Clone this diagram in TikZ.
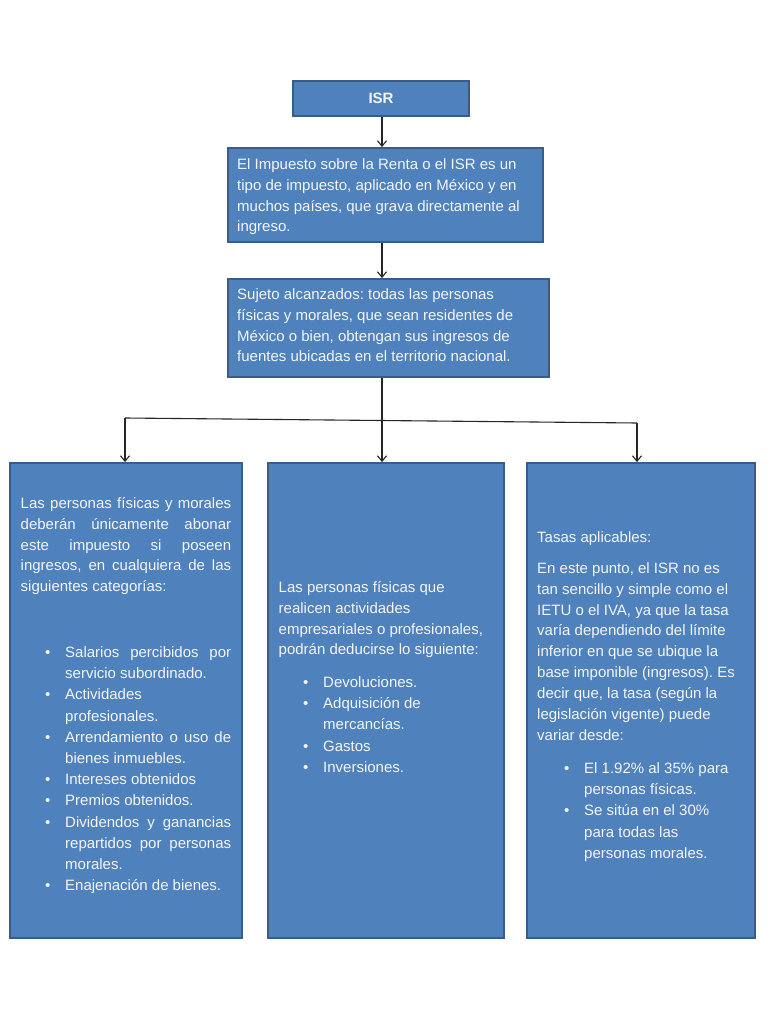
\documentclass[tikz,border=0pt]{standalone}
\usepackage{fontspec}
\setmainfont{Liberation Sans}
\usetikzlibrary{arrows.meta}
\definecolor{boxfill}{HTML}{4F81BD}
\definecolor{boxline}{HTML}{385D8A}
\definecolor{txtcol}{HTML}{F4F6FA}
\frenchspacing
\tikzset{
  box/.style={draw=boxline, fill=boxfill, line width=1.8pt, inner sep=0pt, rectangle},
  txtblock/.style={inner sep=0pt, anchor=north west, align=left, text=txtcol,
    font=\fontsize{15}{20.9}\selectfont},
  listblock/.style={txtblock, font=\fontsize{15}{21.2}\selectfont},
  conn/.style={draw=black!85, line width=1.1pt},
  arr/.style={conn, -{Straight Barb[length=5.5pt,width=9pt]}},
}
\newcommand{\bitem}[1]{\makebox[20pt][l]{\textbullet}#1}
\newcommand{\bcont}[1]{\hspace*{20pt}#1}
\newcommand{\jline}[2]{\makebox[#1][s]{#2}}
\begin{document}
\begin{tikzpicture}[x=1pt,y=-1pt]
\useasboundingbox (0,0) rectangle (768,1024);
\fill[white] (0,0) rectangle (768,1024);

% boxes
\node[box, minimum width=176pt, minimum height=35pt] (isr) at (381,98.5) {};
\node[box, minimum width=315pt, minimum height=94pt] (def) at (385.5,195) {};
\node[box, minimum width=321pt, minimum height=98pt] (suj) at (388.5,328) {};
\node[box, minimum width=232pt, minimum height=475pt] (left) at (126,700.5) {};
\node[box, minimum width=236pt, minimum height=475pt] (mid) at (386,700.5) {};
\node[box, minimum width=228pt, minimum height=475pt] (right) at (641,700.5) {};

% texts
\node[text=txtcol, font=\fontsize{15}{18}\selectfont\bfseries] (isrt) at (isr.center) {ISR};

\node[txtblock] (deft) at (237,154.4) {\strut El Impuesto sobre la Renta o el ISR es un\\
tipo de impuesto, aplicado en México y en\\
muchos países, que grava directamente al\\
ingreso.};

\node[txtblock] (sujt) at (237,284.4) {\strut Sujeto alcanzados: todas las personas\\
físicas y morales, que sean residentes de\\
México o bien, obtengan sus ingresos de\\
fuentes ubicadas en el territorio nacional.};

\node[txtblock] (leftt) at (20.5,493.4) {\strut\jline{210.5pt}{Las personas físicas y morales}\\
\jline{210.5pt}{deberán únicamente abonar}\\
\jline{210.5pt}{este impuesto si poseen}\\
\jline{210.5pt}{ingresos, en cualquiera de las}\\
siguientes categorías:};

\node[listblock] (leftl) at (45,642.4) {\strut\bitem{\jline{166pt}{Salarios percibidos por}}\\
\bcont{servicio subordinado.}\\
\bitem{Actividades}\\
\bcont{profesionales.}\\
\bitem{\jline{166pt}{Arrendamiento o uso de}}\\
\bcont{bienes inmuebles.}\\
\bitem{Intereses obtenidos}\\
\bitem{Premios obtenidos.}\\
\bitem{\jline{166pt}{Dividendos y ganancias}}\\
\bcont{\jline{166pt}{repartidos por personas}}\\
\bcont{morales.}\\
\bitem{Enajenación de bienes.}};

\node[txtblock] (midt) at (278.5,577.4) {\strut Las personas físicas que\\
realicen actividades\\
empresariales o profesionales,\\
podrán deducirse lo siguiente:};

\node[listblock] (midl) at (303,672.4) {\strut\bitem{Devoluciones.}\\
\bitem{Adquisición de}\\
\bcont{mercancías.}\\
\bitem{Gastos}\\
\bitem{Inversiones.}};

\node[txtblock] (rightt) at (537,527.4) {\strut Tasas aplicables:};

\node[txtblock] (rightp) at (537,558.4) {\strut En este punto, el ISR no es\\
tan sencillo y simple como el\\
IETU o el IVA, ya que la tasa\\
varía dependiendo del límite\\
inferior en que se ubique la\\
base imponible (ingresos). Es\\
decir que, la tasa (según la\\
legislación vigente) puede\\
variar desde:};

\node[listblock] (rightl) at (564,758.4) {\strut\bitem{El 1.92\% al 35\% para}\\
\bcont{personas físicas.}\\
\bitem{Se sitúa en el 30\%}\\
\bcont{para todas las}\\
\bcont{personas morales.}};

% connectors
\coordinate (ax) at (382,0);
\coordinate (jl) at (125,418);
\coordinate (jr) at (637,423);
\coordinate (jm) at (382,420.5);
\draw[arr] (ax |- isr.south) -- (ax |- def.north);
\draw[arr] (ax |- def.south) -- (ax |- suj.north);
\draw[conn] (ax |- suj.south) -- (jm);
\draw[arr] (jm) -- (ax |- mid.north);
\draw[conn] (jl) -- (jr);
\draw[arr] (jl) -- (jl |- left.north);
\draw[arr] (jr) -- (jr |- right.north);
\end{tikzpicture}
\end{document}
